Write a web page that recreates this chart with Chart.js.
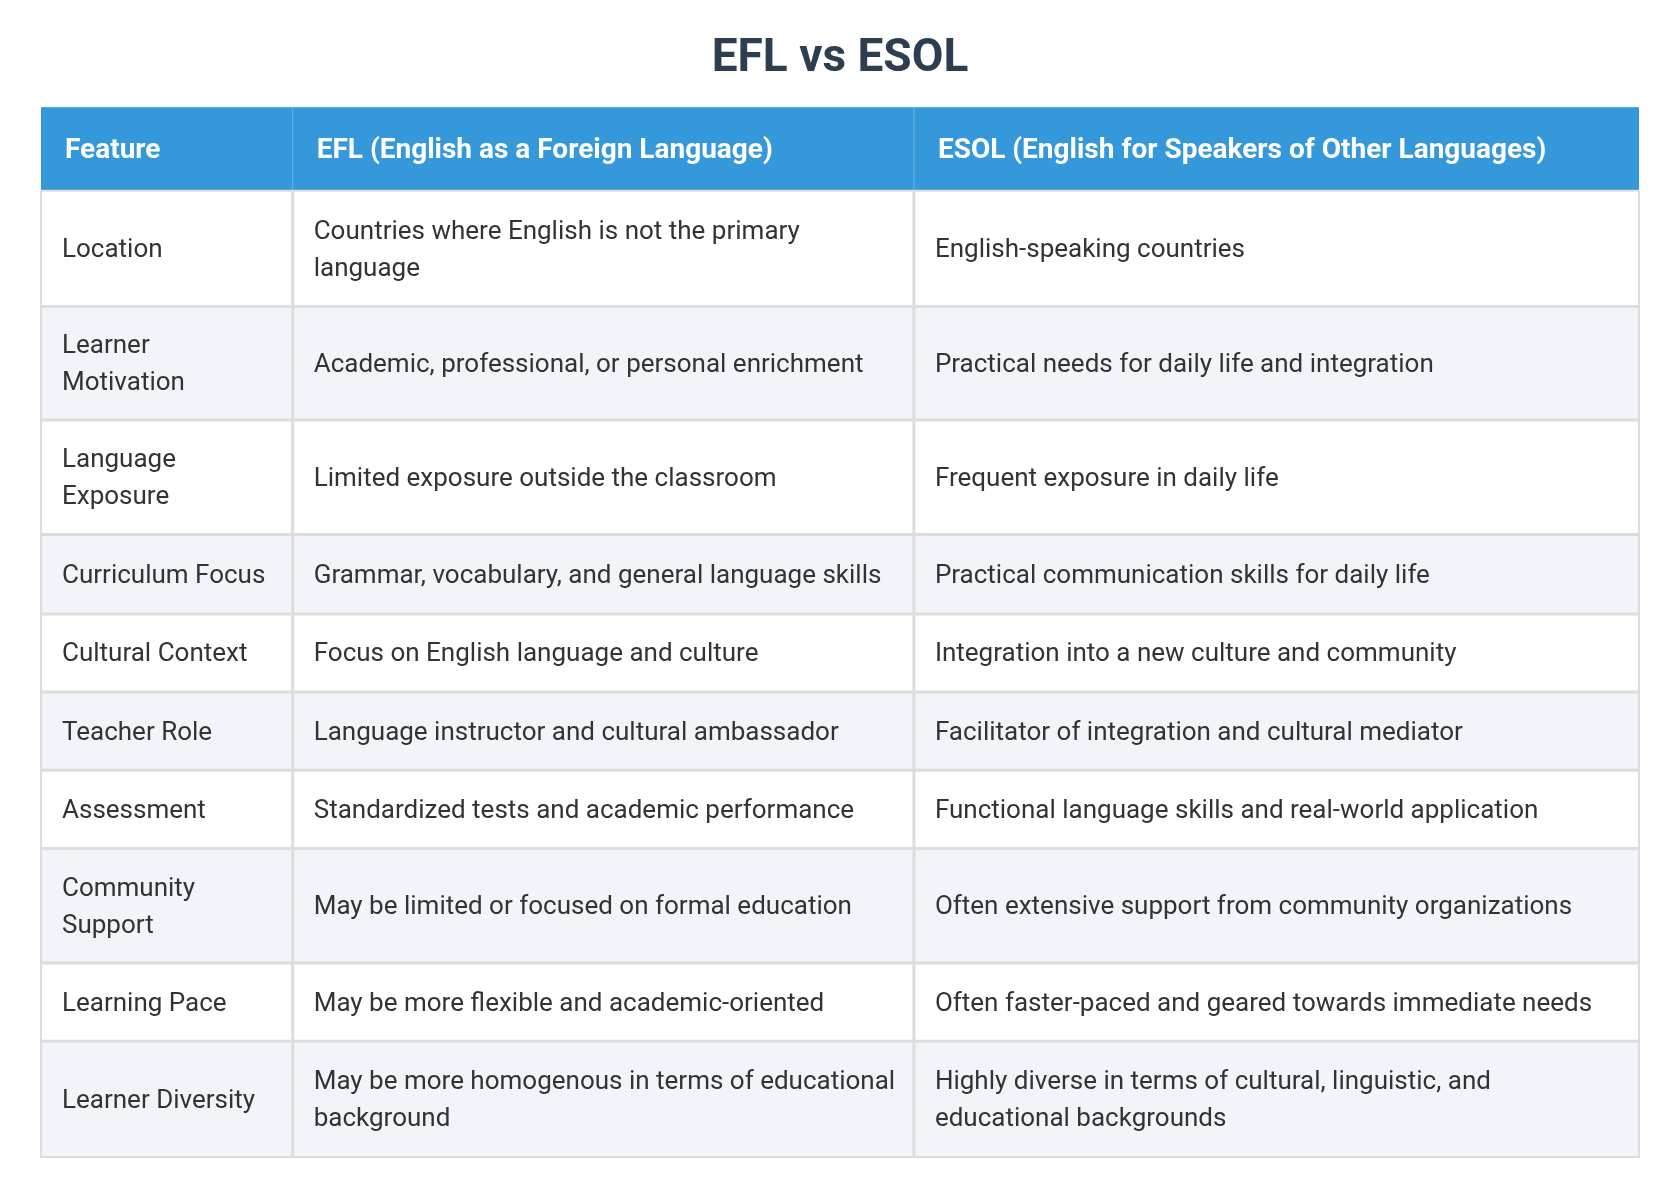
<!DOCTYPE html>
<html>
<head>
<meta charset="utf-8">
<script src="https://cdn.jsdelivr.net/npm/chart.js@4"></script>
<style>
  html, body { margin: 0; padding: 0; background: #ffffff; }
  #wrap { width: 1680px; height: 1200px; }
</style>
</head>
<body>
<div id="wrap"><canvas id="tableChart" width="1680" height="1200"></canvas></div>
<script>
// --- data ---
const headers = ['Feature', 'EFL (English as a Foreign Language)', 'ESOL (English for Speakers of Other Languages)'];
const features = ['Location', 'Learner Motivation', 'Language Exposure', 'Curriculum Focus', 'Cultural Context',
    'Teacher Role', 'Assessment', 'Community Support', 'Learning Pace', 'Learner Diversity'];
const eflValues = [
    'Countries where English is not the primary language',
    'Academic, professional, or personal enrichment',
    'Limited exposure outside the classroom',
    'Grammar, vocabulary, and general language skills',
    'Focus on English language and culture',
    'Language instructor and cultural ambassador',
    'Standardized tests and academic performance',
    'May be limited or focused on formal education',
    'May be more flexible and academic-oriented',
    'May be more homogenous in terms of educational background'
];
const esolValues = [
    'English-speaking countries',
    'Practical needs for daily life and integration',
    'Frequent exposure in daily life',
    'Practical communication skills for daily life',
    'Integration into a new culture and community',
    'Facilitator of integration and cultural mediator',
    'Functional language skills and real-world application',
    'Often extensive support from community organizations',
    'Often faster-paced and geared towards immediate needs',
    'Highly diverse in terms of cultural, linguistic, and educational backgrounds'
];
// column widths and row heights in table units
const colWidths = [235, 580, 677];
const headerHeight = 78;
const rowHeights = [108, 106, 107, 74, 73, 73, 73, 107, 73, 108];

const totalW = colWidths.reduce((a, b) => a + b, 0);
const totalH = headerHeight + rowHeights.reduce((a, b) => a + b, 0);

const FONT = 'Roboto, "Open Sans", Arial, sans-serif';

function wrapText(ctx, text, maxW) {
    const words = text.split(' ');
    const lines = [];
    let cur = '';
    words.forEach(w => {
        const t = cur ? cur + ' ' + w : w;
        if (ctx.measureText(t).width > maxW && cur) { lines.push(cur); cur = w; }
        else cur = t;
    });
    if (cur) lines.push(cur);
    return lines;
}

// table drawn through the chart's x/y scales
const tablePlugin = {
    id: 'tablePlugin',
    afterDraw(chart) {
        const ctx = chart.ctx;
        const xs = chart.scales.x, ys = chart.scales.y;
        const colX = [0];
        colWidths.forEach(w => colX.push(colX[colX.length - 1] + w));
        const rowY = [0, headerHeight];
        rowHeights.forEach(h => rowY.push(rowY[rowY.length - 1] + h));
        const px = v => xs.getPixelForValue(v);
        const py = v => ys.getPixelForValue(v);
        ctx.save();

        // header
        ctx.fillStyle = '#3498db';
        ctx.fillRect(px(0), py(0), px(totalW) - px(0), py(headerHeight) - py(0));
        ctx.fillStyle = '#ffffff';
        ctx.font = 'bold 28px ' + FONT;
        ctx.textBaseline = 'middle';
        headers.forEach((h, i) => {
            ctx.fillText(h, px(colX[i]) + 24, (py(0) + py(headerHeight)) / 2 + 2);
        });
        ctx.strokeStyle = 'rgba(255,255,255,0.25)';
        ctx.lineWidth = 1;
        [1, 2].forEach(i => {
            ctx.beginPath();
            ctx.moveTo(px(colX[i]), py(0));
            ctx.lineTo(px(colX[i]), py(headerHeight));
            ctx.stroke();
        });

        // body rows
        ctx.font = '26px ' + FONT;
        const lineH = 37;
        for (let r = 0; r < features.length; r++) {
            const top = py(rowY[r + 1]), bot = py(rowY[r + 2]);
            ctx.fillStyle = r % 2 === 1 ? '#f1f4f9' : '#ffffff';
            ctx.fillRect(px(0), top, px(totalW) - px(0), bot - top);
            const cells = [features[r], eflValues[r], esolValues[r]];
            cells.forEach((txt, c) => {
                const left = px(colX[c]) + 21;
                const maxW = px(colX[c + 1]) - px(colX[c]) - 36;
                const lines = wrapText(ctx, txt, maxW);
                const mid = (top + bot) / 2 + 2;
                ctx.fillStyle = '#333333';
                lines.forEach((ln, k) => {
                    ctx.fillText(ln, left, mid + (k - (lines.length - 1) / 2) * lineH);
                });
            });
        }

        // grid lines
        ctx.strokeStyle = '#dddddd';
        ctx.lineWidth = 3;
        for (let r = 2; r < rowY.length - 1; r++) {
            ctx.beginPath();
            ctx.moveTo(px(0), py(rowY[r]));
            ctx.lineTo(px(totalW), py(rowY[r]));
            ctx.stroke();
        }
        [1, 2].forEach(i => {
            ctx.beginPath();
            ctx.moveTo(px(colX[i]), py(headerHeight));
            ctx.lineTo(px(colX[i]), py(totalH));
            ctx.stroke();
        });
        ctx.lineWidth = 2;
        ctx.strokeRect(px(0), py(headerHeight), px(totalW) - px(0), py(totalH) - py(headerHeight));
        ctx.restore();
    }
};

new Chart(document.getElementById('tableChart').getContext('2d'), {
    type: 'scatter',
    data: { datasets: [{ data: [], pointRadius: 0 }] },
    options: {
        responsive: false,
        animation: false,
        devicePixelRatio: 1,
        layout: { padding: { left: 41, right: 41, bottom: 43, top: 0 } },
        scales: {
            x: { type: 'linear', min: 0, max: totalW, display: false },
            y: { type: 'linear', min: 0, max: totalH, reverse: true, display: false }
        },
        plugins: {
            legend: { display: false },
            tooltip: { enabled: false },
            title: {
                display: true,
                text: 'EFL vs ESOL',
                color: '#2c3e50',
                font: { size: 46, weight: 'bold', family: FONT },
                padding: { top: 32, bottom: 20 }
            }
        }
    },
    plugins: [tablePlugin]
});
</script>
</body>
</html>
